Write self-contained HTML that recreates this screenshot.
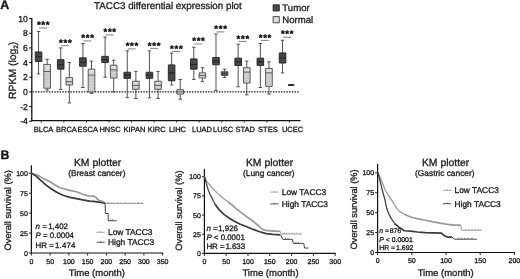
<!DOCTYPE html>
<html lang="en"><head><meta charset="utf-8"><title>TACC3 figure</title>
<style>
html,body{margin:0;padding:0;background:#fff;}
body{width:520px;height:279px;overflow:hidden;font-family:"Liberation Sans", sans-serif;}
svg{display:block;filter:blur(0.4px);}
</style></head>
<body>
<svg width="520" height="279" viewBox="0 0 520 279" font-family='"Liberation Sans", sans-serif' text-rendering="geometricPrecision" stroke-linejoin="round"><style>text{stroke:#1a1a1a;stroke-width:0.3px;paint-order:stroke fill}</style>
<text x="0.30" y="9.40" font-size="12.4" text-anchor="start" fill="#111" font-weight="bold" font-style="normal" >A</text>
<text x="167.90" y="9.30" font-size="9.8" text-anchor="middle" fill="#1a1a1a" font-weight="normal" font-style="normal" >TACC3 differential expression plot</text>
<line x1="31.80" y1="18.10" x2="31.80" y2="121.20" stroke="#111" stroke-width="1.3" />
<line x1="29.20" y1="18.60" x2="31.80" y2="18.60" stroke="#111" stroke-width="1.1" />
<text x="27.80" y="21.60" font-size="8.6" text-anchor="end" fill="#1a1a1a" font-weight="normal" font-style="normal" >10</text>
<line x1="29.20" y1="33.26" x2="31.80" y2="33.26" stroke="#111" stroke-width="1.1" />
<text x="27.80" y="36.26" font-size="8.6" text-anchor="end" fill="#1a1a1a" font-weight="normal" font-style="normal" >8</text>
<line x1="29.20" y1="47.92" x2="31.80" y2="47.92" stroke="#111" stroke-width="1.1" />
<text x="27.80" y="50.92" font-size="8.6" text-anchor="end" fill="#1a1a1a" font-weight="normal" font-style="normal" >6</text>
<line x1="29.20" y1="62.58" x2="31.80" y2="62.58" stroke="#111" stroke-width="1.1" />
<text x="27.80" y="65.58" font-size="8.6" text-anchor="end" fill="#1a1a1a" font-weight="normal" font-style="normal" >4</text>
<line x1="29.20" y1="77.24" x2="31.80" y2="77.24" stroke="#111" stroke-width="1.1" />
<text x="27.80" y="80.24" font-size="8.6" text-anchor="end" fill="#1a1a1a" font-weight="normal" font-style="normal" >2</text>
<line x1="29.20" y1="91.90" x2="31.80" y2="91.90" stroke="#111" stroke-width="1.1" />
<text x="27.80" y="94.90" font-size="8.6" text-anchor="end" fill="#1a1a1a" font-weight="normal" font-style="normal" >0</text>
<line x1="29.20" y1="106.56" x2="31.80" y2="106.56" stroke="#111" stroke-width="1.1" />
<text x="27.80" y="109.56" font-size="8.6" text-anchor="end" fill="#1a1a1a" font-weight="normal" font-style="normal" >-2</text>
<line x1="29.20" y1="121.22" x2="31.80" y2="121.22" stroke="#111" stroke-width="1.1" />
<text x="27.80" y="124.22" font-size="8.6" text-anchor="end" fill="#1a1a1a" font-weight="normal" font-style="normal" >-4</text>
<line x1="31.30" y1="120.70" x2="300.50" y2="120.70" stroke="#111" stroke-width="1.2" />
<line x1="32.60" y1="91.90" x2="300.00" y2="91.90" stroke="#1c1c1c" stroke-width="1.3" stroke-dasharray="1.5 1.2"/>
<text transform="translate(15.8,70.3) rotate(-90)" font-size="10.4" text-anchor="middle" fill="#1a1a1a">RPKM (log<tspan font-size="6.4" dy="2.2">2</tspan><tspan dy="-2.2">)</tspan></text>
<line x1="38.55" y1="31.43" x2="38.55" y2="51.95" stroke="#404040" stroke-width="0.9" />
<line x1="38.55" y1="61.48" x2="38.55" y2="73.94" stroke="#404040" stroke-width="0.9" />
<line x1="36.85" y1="31.43" x2="40.25" y2="31.43" stroke="#404040" stroke-width="0.9" />
<line x1="36.85" y1="73.94" x2="40.25" y2="73.94" stroke="#404040" stroke-width="0.9" />
<rect x="35.25" y="51.95" width="6.60" height="9.53" fill="#474747" stroke="#222" stroke-width="0.9"/>
<line x1="35.25" y1="56.72" x2="41.85" y2="56.72" stroke="#1e1e1e" stroke-width="0.9" />
<line x1="47.15" y1="59.28" x2="47.15" y2="64.41" stroke="#404040" stroke-width="0.9" />
<line x1="47.15" y1="88.23" x2="47.15" y2="90.07" stroke="#404040" stroke-width="0.9" />
<line x1="45.45" y1="59.28" x2="48.85" y2="59.28" stroke="#404040" stroke-width="0.9" />
<line x1="45.45" y1="90.07" x2="48.85" y2="90.07" stroke="#404040" stroke-width="0.9" />
<rect x="43.85" y="64.41" width="6.60" height="23.82" fill="#dddddd" stroke="#454545" stroke-width="0.9"/>
<line x1="44.45" y1="72.98" x2="49.85" y2="72.98" stroke="#a8a8a8" stroke-width="0.5" />
<line x1="44.45" y1="74.58" x2="49.85" y2="74.58" stroke="#a8a8a8" stroke-width="0.5" />
<line x1="44.45" y1="76.18" x2="49.85" y2="76.18" stroke="#a8a8a8" stroke-width="0.5" />
<line x1="44.45" y1="77.78" x2="49.85" y2="77.78" stroke="#a8a8a8" stroke-width="0.5" />
<line x1="44.45" y1="79.38" x2="49.85" y2="79.38" stroke="#a8a8a8" stroke-width="0.5" />
<line x1="44.45" y1="80.98" x2="49.85" y2="80.98" stroke="#a8a8a8" stroke-width="0.5" />
<line x1="44.45" y1="82.58" x2="49.85" y2="82.58" stroke="#a8a8a8" stroke-width="0.5" />
<line x1="44.45" y1="84.18" x2="49.85" y2="84.18" stroke="#a8a8a8" stroke-width="0.5" />
<line x1="44.45" y1="85.78" x2="49.85" y2="85.78" stroke="#a8a8a8" stroke-width="0.5" />
<line x1="44.45" y1="87.38" x2="49.85" y2="87.38" stroke="#a8a8a8" stroke-width="0.5" />
<line x1="43.85" y1="71.38" x2="50.45" y2="71.38" stroke="#454545" stroke-width="0.9" />
<line x1="41.30" y1="120.70" x2="41.30" y2="122.60" stroke="#222" stroke-width="0.9" />
<text x="43.60" y="28.10" font-size="9.6" text-anchor="middle" fill="#000" font-weight="bold" font-style="normal" letter-spacing="0.72" style="stroke-width:0.35px;stroke:#000">***</text>
<line x1="39.05" y1="28.00" x2="47.05" y2="28.00" stroke="#6a6a6a" stroke-width="0.85" />
<line x1="60.73" y1="47.92" x2="60.73" y2="59.65" stroke="#404040" stroke-width="0.9" />
<line x1="60.73" y1="69.18" x2="60.73" y2="89.33" stroke="#404040" stroke-width="0.9" />
<line x1="59.03" y1="47.92" x2="62.43" y2="47.92" stroke="#404040" stroke-width="0.9" />
<line x1="59.03" y1="89.33" x2="62.43" y2="89.33" stroke="#404040" stroke-width="0.9" />
<rect x="57.43" y="59.65" width="6.60" height="9.53" fill="#474747" stroke="#222" stroke-width="0.9"/>
<line x1="57.43" y1="64.78" x2="64.03" y2="64.78" stroke="#1e1e1e" stroke-width="0.9" />
<line x1="69.33" y1="62.58" x2="69.33" y2="77.61" stroke="#404040" stroke-width="0.9" />
<line x1="69.33" y1="84.94" x2="69.33" y2="102.90" stroke="#404040" stroke-width="0.9" />
<line x1="67.63" y1="62.58" x2="71.03" y2="62.58" stroke="#404040" stroke-width="0.9" />
<line x1="67.63" y1="102.90" x2="71.03" y2="102.90" stroke="#404040" stroke-width="0.9" />
<rect x="66.03" y="77.61" width="6.60" height="7.33" fill="#dddddd" stroke="#454545" stroke-width="0.9"/>
<line x1="66.63" y1="83.24" x2="72.03" y2="83.24" stroke="#a8a8a8" stroke-width="0.5" />
<line x1="66.03" y1="81.64" x2="72.63" y2="81.64" stroke="#454545" stroke-width="0.9" />
<line x1="63.85" y1="120.70" x2="63.85" y2="122.60" stroke="#222" stroke-width="0.9" />
<text x="65.78" y="45.80" font-size="9.6" text-anchor="middle" fill="#000" font-weight="bold" font-style="normal" letter-spacing="0.72" style="stroke-width:0.35px;stroke:#000">***</text>
<line x1="61.23" y1="45.70" x2="69.23" y2="45.70" stroke="#6a6a6a" stroke-width="0.85" />
<line x1="82.91" y1="43.52" x2="82.91" y2="57.82" stroke="#404040" stroke-width="0.9" />
<line x1="82.91" y1="66.25" x2="82.91" y2="87.50" stroke="#404040" stroke-width="0.9" />
<line x1="81.21" y1="43.52" x2="84.61" y2="43.52" stroke="#404040" stroke-width="0.9" />
<line x1="81.21" y1="87.50" x2="84.61" y2="87.50" stroke="#404040" stroke-width="0.9" />
<rect x="79.61" y="57.82" width="6.60" height="8.43" fill="#474747" stroke="#222" stroke-width="0.9"/>
<line x1="79.61" y1="62.21" x2="86.21" y2="62.21" stroke="#1e1e1e" stroke-width="0.9" />
<line x1="91.51" y1="61.11" x2="91.51" y2="69.18" stroke="#404040" stroke-width="0.9" />
<line x1="91.51" y1="91.90" x2="91.51" y2="93.37" stroke="#404040" stroke-width="0.9" />
<line x1="89.81" y1="61.11" x2="93.21" y2="61.11" stroke="#404040" stroke-width="0.9" />
<line x1="89.81" y1="93.37" x2="93.21" y2="93.37" stroke="#404040" stroke-width="0.9" />
<rect x="88.21" y="69.18" width="6.60" height="22.72" fill="#dddddd" stroke="#454545" stroke-width="0.9"/>
<line x1="88.81" y1="76.64" x2="94.21" y2="76.64" stroke="#a8a8a8" stroke-width="0.5" />
<line x1="88.81" y1="78.24" x2="94.21" y2="78.24" stroke="#a8a8a8" stroke-width="0.5" />
<line x1="88.81" y1="79.84" x2="94.21" y2="79.84" stroke="#a8a8a8" stroke-width="0.5" />
<line x1="88.81" y1="81.44" x2="94.21" y2="81.44" stroke="#a8a8a8" stroke-width="0.5" />
<line x1="88.81" y1="83.04" x2="94.21" y2="83.04" stroke="#a8a8a8" stroke-width="0.5" />
<line x1="88.81" y1="84.64" x2="94.21" y2="84.64" stroke="#a8a8a8" stroke-width="0.5" />
<line x1="88.81" y1="86.24" x2="94.21" y2="86.24" stroke="#a8a8a8" stroke-width="0.5" />
<line x1="88.81" y1="87.84" x2="94.21" y2="87.84" stroke="#a8a8a8" stroke-width="0.5" />
<line x1="88.81" y1="89.44" x2="94.21" y2="89.44" stroke="#a8a8a8" stroke-width="0.5" />
<line x1="88.81" y1="91.04" x2="94.21" y2="91.04" stroke="#a8a8a8" stroke-width="0.5" />
<line x1="88.21" y1="75.04" x2="94.81" y2="75.04" stroke="#454545" stroke-width="0.9" />
<line x1="86.40" y1="120.70" x2="86.40" y2="122.60" stroke="#222" stroke-width="0.9" />
<text x="87.96" y="41.00" font-size="9.6" text-anchor="middle" fill="#000" font-weight="bold" font-style="normal" letter-spacing="0.72" style="stroke-width:0.35px;stroke:#000">***</text>
<line x1="83.41" y1="40.90" x2="91.41" y2="40.90" stroke="#6a6a6a" stroke-width="0.85" />
<line x1="105.09" y1="37.07" x2="105.09" y2="56.35" stroke="#404040" stroke-width="0.9" />
<line x1="105.09" y1="62.58" x2="105.09" y2="77.24" stroke="#404040" stroke-width="0.9" />
<line x1="103.39" y1="37.07" x2="106.79" y2="37.07" stroke="#404040" stroke-width="0.9" />
<line x1="103.39" y1="77.24" x2="106.79" y2="77.24" stroke="#404040" stroke-width="0.9" />
<rect x="101.79" y="56.35" width="6.60" height="6.23" fill="#474747" stroke="#222" stroke-width="0.9"/>
<line x1="101.79" y1="59.65" x2="108.39" y2="59.65" stroke="#1e1e1e" stroke-width="0.9" />
<line x1="113.69" y1="60.23" x2="113.69" y2="65.22" stroke="#404040" stroke-width="0.9" />
<line x1="113.69" y1="77.97" x2="113.69" y2="91.90" stroke="#404040" stroke-width="0.9" />
<line x1="111.99" y1="60.23" x2="115.39" y2="60.23" stroke="#404040" stroke-width="0.9" />
<line x1="111.99" y1="91.90" x2="115.39" y2="91.90" stroke="#404040" stroke-width="0.9" />
<rect x="110.39" y="65.22" width="6.60" height="12.75" fill="#dddddd" stroke="#454545" stroke-width="0.9"/>
<line x1="110.99" y1="71.51" x2="116.39" y2="71.51" stroke="#a8a8a8" stroke-width="0.5" />
<line x1="110.99" y1="73.11" x2="116.39" y2="73.11" stroke="#a8a8a8" stroke-width="0.5" />
<line x1="110.99" y1="74.71" x2="116.39" y2="74.71" stroke="#a8a8a8" stroke-width="0.5" />
<line x1="110.99" y1="76.31" x2="116.39" y2="76.31" stroke="#a8a8a8" stroke-width="0.5" />
<line x1="110.39" y1="69.91" x2="116.99" y2="69.91" stroke="#454545" stroke-width="0.9" />
<line x1="108.95" y1="120.70" x2="108.95" y2="122.60" stroke="#222" stroke-width="0.9" />
<text x="110.14" y="35.00" font-size="9.6" text-anchor="middle" fill="#000" font-weight="bold" font-style="normal" letter-spacing="0.72" style="stroke-width:0.35px;stroke:#000">***</text>
<line x1="105.59" y1="34.90" x2="113.59" y2="34.90" stroke="#6a6a6a" stroke-width="0.85" />
<line x1="127.27" y1="50.85" x2="127.27" y2="72.26" stroke="#404040" stroke-width="0.9" />
<line x1="127.27" y1="78.34" x2="127.27" y2="97.76" stroke="#404040" stroke-width="0.9" />
<line x1="125.57" y1="50.85" x2="128.97" y2="50.85" stroke="#404040" stroke-width="0.9" />
<line x1="125.57" y1="97.76" x2="128.97" y2="97.76" stroke="#404040" stroke-width="0.9" />
<rect x="123.97" y="72.26" width="6.60" height="6.08" fill="#474747" stroke="#222" stroke-width="0.9"/>
<line x1="123.97" y1="75.04" x2="130.57" y2="75.04" stroke="#1e1e1e" stroke-width="0.9" />
<line x1="135.87" y1="71.38" x2="135.87" y2="81.27" stroke="#404040" stroke-width="0.9" />
<line x1="135.87" y1="89.33" x2="135.87" y2="98.50" stroke="#404040" stroke-width="0.9" />
<line x1="134.17" y1="71.38" x2="137.57" y2="71.38" stroke="#404040" stroke-width="0.9" />
<line x1="134.17" y1="98.50" x2="137.57" y2="98.50" stroke="#404040" stroke-width="0.9" />
<rect x="132.57" y="81.27" width="6.60" height="8.06" fill="#dddddd" stroke="#454545" stroke-width="0.9"/>
<line x1="133.17" y1="86.90" x2="138.57" y2="86.90" stroke="#a8a8a8" stroke-width="0.5" />
<line x1="133.17" y1="88.50" x2="138.57" y2="88.50" stroke="#a8a8a8" stroke-width="0.5" />
<line x1="132.57" y1="85.30" x2="139.17" y2="85.30" stroke="#454545" stroke-width="0.9" />
<line x1="131.50" y1="120.70" x2="131.50" y2="122.60" stroke="#222" stroke-width="0.9" />
<text x="132.32" y="49.00" font-size="9.6" text-anchor="middle" fill="#000" font-weight="bold" font-style="normal" letter-spacing="0.72" style="stroke-width:0.35px;stroke:#000">***</text>
<line x1="127.77" y1="48.90" x2="135.77" y2="48.90" stroke="#6a6a6a" stroke-width="0.85" />
<line x1="149.45" y1="50.85" x2="149.45" y2="72.26" stroke="#404040" stroke-width="0.9" />
<line x1="149.45" y1="78.34" x2="149.45" y2="97.76" stroke="#404040" stroke-width="0.9" />
<line x1="147.75" y1="50.85" x2="151.15" y2="50.85" stroke="#404040" stroke-width="0.9" />
<line x1="147.75" y1="97.76" x2="151.15" y2="97.76" stroke="#404040" stroke-width="0.9" />
<rect x="146.15" y="72.26" width="6.60" height="6.08" fill="#474747" stroke="#222" stroke-width="0.9"/>
<line x1="146.15" y1="75.04" x2="152.75" y2="75.04" stroke="#1e1e1e" stroke-width="0.9" />
<line x1="158.05" y1="71.38" x2="158.05" y2="81.27" stroke="#404040" stroke-width="0.9" />
<line x1="158.05" y1="89.33" x2="158.05" y2="98.50" stroke="#404040" stroke-width="0.9" />
<line x1="156.35" y1="71.38" x2="159.75" y2="71.38" stroke="#404040" stroke-width="0.9" />
<line x1="156.35" y1="98.50" x2="159.75" y2="98.50" stroke="#404040" stroke-width="0.9" />
<rect x="154.75" y="81.27" width="6.60" height="8.06" fill="#dddddd" stroke="#454545" stroke-width="0.9"/>
<line x1="155.35" y1="86.90" x2="160.75" y2="86.90" stroke="#a8a8a8" stroke-width="0.5" />
<line x1="155.35" y1="88.50" x2="160.75" y2="88.50" stroke="#a8a8a8" stroke-width="0.5" />
<line x1="154.75" y1="85.30" x2="161.35" y2="85.30" stroke="#454545" stroke-width="0.9" />
<line x1="154.05" y1="120.70" x2="154.05" y2="122.60" stroke="#222" stroke-width="0.9" />
<text x="154.50" y="48.50" font-size="9.6" text-anchor="middle" fill="#000" font-weight="bold" font-style="normal" letter-spacing="0.72" style="stroke-width:0.35px;stroke:#000">***</text>
<line x1="149.95" y1="48.40" x2="157.95" y2="48.40" stroke="#6a6a6a" stroke-width="0.85" />
<line x1="171.63" y1="53.05" x2="171.63" y2="64.93" stroke="#404040" stroke-width="0.9" />
<line x1="171.63" y1="80.76" x2="171.63" y2="84.94" stroke="#404040" stroke-width="0.9" />
<line x1="169.93" y1="53.05" x2="173.33" y2="53.05" stroke="#404040" stroke-width="0.9" />
<line x1="169.93" y1="84.94" x2="173.33" y2="84.94" stroke="#404040" stroke-width="0.9" />
<rect x="168.33" y="64.93" width="6.60" height="15.83" fill="#474747" stroke="#222" stroke-width="0.9"/>
<line x1="168.33" y1="72.84" x2="174.93" y2="72.84" stroke="#1e1e1e" stroke-width="0.9" />
<line x1="180.23" y1="79.44" x2="180.23" y2="89.70" stroke="#404040" stroke-width="0.9" />
<line x1="180.23" y1="94.10" x2="180.23" y2="99.23" stroke="#404040" stroke-width="0.9" />
<line x1="178.53" y1="79.44" x2="181.93" y2="79.44" stroke="#404040" stroke-width="0.9" />
<line x1="178.53" y1="99.23" x2="181.93" y2="99.23" stroke="#404040" stroke-width="0.9" />
<rect x="176.93" y="89.70" width="6.60" height="4.40" fill="#dddddd" stroke="#454545" stroke-width="0.9"/>
<line x1="176.93" y1="91.90" x2="183.53" y2="91.90" stroke="#454545" stroke-width="0.9" />
<line x1="176.60" y1="120.70" x2="176.60" y2="122.60" stroke="#222" stroke-width="0.9" />
<text x="176.68" y="51.50" font-size="9.6" text-anchor="middle" fill="#000" font-weight="bold" font-style="normal" letter-spacing="0.72" style="stroke-width:0.35px;stroke:#000">***</text>
<line x1="172.13" y1="51.40" x2="180.13" y2="51.40" stroke="#6a6a6a" stroke-width="0.85" />
<line x1="193.81" y1="47.19" x2="193.81" y2="58.92" stroke="#404040" stroke-width="0.9" />
<line x1="193.81" y1="69.18" x2="193.81" y2="79.44" stroke="#404040" stroke-width="0.9" />
<line x1="192.11" y1="47.19" x2="195.51" y2="47.19" stroke="#404040" stroke-width="0.9" />
<line x1="192.11" y1="79.44" x2="195.51" y2="79.44" stroke="#404040" stroke-width="0.9" />
<rect x="190.51" y="58.92" width="6.60" height="10.26" fill="#474747" stroke="#222" stroke-width="0.9"/>
<line x1="190.51" y1="64.41" x2="197.11" y2="64.41" stroke="#1e1e1e" stroke-width="0.9" />
<line x1="202.41" y1="67.71" x2="202.41" y2="72.84" stroke="#404040" stroke-width="0.9" />
<line x1="202.41" y1="77.97" x2="202.41" y2="81.64" stroke="#404040" stroke-width="0.9" />
<line x1="200.71" y1="67.71" x2="204.11" y2="67.71" stroke="#404040" stroke-width="0.9" />
<line x1="200.71" y1="81.64" x2="204.11" y2="81.64" stroke="#404040" stroke-width="0.9" />
<rect x="199.11" y="72.84" width="6.60" height="5.13" fill="#dddddd" stroke="#454545" stroke-width="0.9"/>
<line x1="199.71" y1="77.01" x2="205.11" y2="77.01" stroke="#a8a8a8" stroke-width="0.5" />
<line x1="199.11" y1="75.41" x2="205.71" y2="75.41" stroke="#454545" stroke-width="0.9" />
<line x1="199.15" y1="120.70" x2="199.15" y2="122.60" stroke="#222" stroke-width="0.9" />
<text x="198.86" y="44.10" font-size="9.6" text-anchor="middle" fill="#000" font-weight="bold" font-style="normal" letter-spacing="0.72" style="stroke-width:0.35px;stroke:#000">***</text>
<line x1="194.31" y1="44.00" x2="202.31" y2="44.00" stroke="#6a6a6a" stroke-width="0.85" />
<line x1="215.99" y1="33.99" x2="215.99" y2="57.45" stroke="#404040" stroke-width="0.9" />
<line x1="215.99" y1="64.78" x2="215.99" y2="90.43" stroke="#404040" stroke-width="0.9" />
<line x1="214.29" y1="33.99" x2="217.69" y2="33.99" stroke="#404040" stroke-width="0.9" />
<line x1="214.29" y1="90.43" x2="217.69" y2="90.43" stroke="#404040" stroke-width="0.9" />
<rect x="212.69" y="57.45" width="6.60" height="7.33" fill="#474747" stroke="#222" stroke-width="0.9"/>
<line x1="212.69" y1="61.11" x2="219.29" y2="61.11" stroke="#1e1e1e" stroke-width="0.9" />
<line x1="224.59" y1="69.18" x2="224.59" y2="71.74" stroke="#404040" stroke-width="0.9" />
<line x1="224.59" y1="75.41" x2="224.59" y2="77.61" stroke="#404040" stroke-width="0.9" />
<line x1="222.89" y1="69.18" x2="226.29" y2="69.18" stroke="#404040" stroke-width="0.9" />
<line x1="222.89" y1="77.61" x2="226.29" y2="77.61" stroke="#404040" stroke-width="0.9" />
<rect x="221.29" y="71.74" width="6.60" height="3.66" fill="#555555" stroke="#454545" stroke-width="0.9"/>
<line x1="221.29" y1="73.58" x2="227.89" y2="73.58" stroke="#454545" stroke-width="0.9" />
<line x1="221.70" y1="120.70" x2="221.70" y2="122.60" stroke="#222" stroke-width="0.9" />
<text x="221.04" y="32.00" font-size="9.6" text-anchor="middle" fill="#000" font-weight="bold" font-style="normal" letter-spacing="0.72" style="stroke-width:0.35px;stroke:#000">***</text>
<line x1="216.49" y1="31.90" x2="224.49" y2="31.90" stroke="#6a6a6a" stroke-width="0.85" />
<line x1="238.17" y1="44.26" x2="238.17" y2="58.18" stroke="#404040" stroke-width="0.9" />
<line x1="238.17" y1="65.51" x2="238.17" y2="86.77" stroke="#404040" stroke-width="0.9" />
<line x1="236.47" y1="44.26" x2="239.87" y2="44.26" stroke="#404040" stroke-width="0.9" />
<line x1="236.47" y1="86.77" x2="239.87" y2="86.77" stroke="#404040" stroke-width="0.9" />
<rect x="234.87" y="58.18" width="6.60" height="7.33" fill="#474747" stroke="#222" stroke-width="0.9"/>
<line x1="234.87" y1="61.85" x2="241.47" y2="61.85" stroke="#1e1e1e" stroke-width="0.9" />
<line x1="246.77" y1="61.11" x2="246.77" y2="67.71" stroke="#404040" stroke-width="0.9" />
<line x1="246.77" y1="83.10" x2="246.77" y2="94.83" stroke="#404040" stroke-width="0.9" />
<line x1="245.07" y1="61.11" x2="248.47" y2="61.11" stroke="#404040" stroke-width="0.9" />
<line x1="245.07" y1="94.83" x2="248.47" y2="94.83" stroke="#404040" stroke-width="0.9" />
<rect x="243.47" y="67.71" width="6.60" height="15.39" fill="#dddddd" stroke="#454545" stroke-width="0.9"/>
<line x1="244.07" y1="73.71" x2="249.47" y2="73.71" stroke="#a8a8a8" stroke-width="0.5" />
<line x1="244.07" y1="75.31" x2="249.47" y2="75.31" stroke="#a8a8a8" stroke-width="0.5" />
<line x1="244.07" y1="76.91" x2="249.47" y2="76.91" stroke="#a8a8a8" stroke-width="0.5" />
<line x1="244.07" y1="78.51" x2="249.47" y2="78.51" stroke="#a8a8a8" stroke-width="0.5" />
<line x1="244.07" y1="80.11" x2="249.47" y2="80.11" stroke="#a8a8a8" stroke-width="0.5" />
<line x1="244.07" y1="81.71" x2="249.47" y2="81.71" stroke="#a8a8a8" stroke-width="0.5" />
<line x1="243.47" y1="72.11" x2="250.07" y2="72.11" stroke="#454545" stroke-width="0.9" />
<line x1="244.25" y1="120.70" x2="244.25" y2="122.60" stroke="#222" stroke-width="0.9" />
<text x="243.22" y="41.50" font-size="9.6" text-anchor="middle" fill="#000" font-weight="bold" font-style="normal" letter-spacing="0.72" style="stroke-width:0.35px;stroke:#000">***</text>
<line x1="238.67" y1="41.40" x2="246.67" y2="41.40" stroke="#6a6a6a" stroke-width="0.85" />
<line x1="260.35" y1="43.52" x2="260.35" y2="58.18" stroke="#404040" stroke-width="0.9" />
<line x1="260.35" y1="65.51" x2="260.35" y2="87.50" stroke="#404040" stroke-width="0.9" />
<line x1="258.65" y1="43.52" x2="262.05" y2="43.52" stroke="#404040" stroke-width="0.9" />
<line x1="258.65" y1="87.50" x2="262.05" y2="87.50" stroke="#404040" stroke-width="0.9" />
<rect x="257.05" y="58.18" width="6.60" height="7.33" fill="#474747" stroke="#222" stroke-width="0.9"/>
<line x1="257.05" y1="61.85" x2="263.65" y2="61.85" stroke="#1e1e1e" stroke-width="0.9" />
<line x1="268.95" y1="61.85" x2="268.95" y2="68.44" stroke="#404040" stroke-width="0.9" />
<line x1="268.95" y1="86.40" x2="268.95" y2="94.10" stroke="#404040" stroke-width="0.9" />
<line x1="267.25" y1="61.85" x2="270.65" y2="61.85" stroke="#404040" stroke-width="0.9" />
<line x1="267.25" y1="94.10" x2="270.65" y2="94.10" stroke="#404040" stroke-width="0.9" />
<rect x="265.65" y="68.44" width="6.60" height="17.96" fill="#dddddd" stroke="#454545" stroke-width="0.9"/>
<line x1="266.25" y1="74.44" x2="271.65" y2="74.44" stroke="#a8a8a8" stroke-width="0.5" />
<line x1="266.25" y1="76.04" x2="271.65" y2="76.04" stroke="#a8a8a8" stroke-width="0.5" />
<line x1="266.25" y1="77.64" x2="271.65" y2="77.64" stroke="#a8a8a8" stroke-width="0.5" />
<line x1="266.25" y1="79.24" x2="271.65" y2="79.24" stroke="#a8a8a8" stroke-width="0.5" />
<line x1="266.25" y1="80.84" x2="271.65" y2="80.84" stroke="#a8a8a8" stroke-width="0.5" />
<line x1="266.25" y1="82.44" x2="271.65" y2="82.44" stroke="#a8a8a8" stroke-width="0.5" />
<line x1="266.25" y1="84.04" x2="271.65" y2="84.04" stroke="#a8a8a8" stroke-width="0.5" />
<line x1="266.25" y1="85.64" x2="271.65" y2="85.64" stroke="#a8a8a8" stroke-width="0.5" />
<line x1="265.65" y1="72.84" x2="272.25" y2="72.84" stroke="#454545" stroke-width="0.9" />
<line x1="266.80" y1="120.70" x2="266.80" y2="122.60" stroke="#222" stroke-width="0.9" />
<text x="265.40" y="40.50" font-size="9.6" text-anchor="middle" fill="#000" font-weight="bold" font-style="normal" letter-spacing="0.72" style="stroke-width:0.35px;stroke:#000">***</text>
<line x1="260.85" y1="40.40" x2="268.85" y2="40.40" stroke="#6a6a6a" stroke-width="0.85" />
<line x1="282.53" y1="40.22" x2="282.53" y2="52.90" stroke="#404040" stroke-width="0.9" />
<line x1="282.53" y1="63.02" x2="282.53" y2="72.84" stroke="#404040" stroke-width="0.9" />
<line x1="280.83" y1="40.22" x2="284.23" y2="40.22" stroke="#404040" stroke-width="0.9" />
<line x1="280.83" y1="72.84" x2="284.23" y2="72.84" stroke="#404040" stroke-width="0.9" />
<rect x="279.23" y="52.90" width="6.60" height="10.12" fill="#474747" stroke="#222" stroke-width="0.9"/>
<line x1="279.23" y1="58.18" x2="285.83" y2="58.18" stroke="#1e1e1e" stroke-width="0.9" />
<line x1="291.13" y1="85.08" x2="291.13" y2="85.08" stroke="#404040" stroke-width="0.9" />
<line x1="291.13" y1="85.08" x2="291.13" y2="85.08" stroke="#404040" stroke-width="0.9" />
<line x1="289.43" y1="85.08" x2="292.83" y2="85.08" stroke="#404040" stroke-width="0.9" />
<line x1="289.43" y1="85.08" x2="292.83" y2="85.08" stroke="#404040" stroke-width="0.9" />
<rect x="287.83" y="84.08" width="6.6" height="2" rx="1" fill="#2e2e2e"/>
<line x1="289.35" y1="120.70" x2="289.35" y2="122.60" stroke="#222" stroke-width="0.9" />
<text x="287.58" y="37.40" font-size="9.6" text-anchor="middle" fill="#000" font-weight="bold" font-style="normal" letter-spacing="0.72" style="stroke-width:0.35px;stroke:#000">***</text>
<line x1="283.03" y1="37.30" x2="291.03" y2="37.30" stroke="#6a6a6a" stroke-width="0.85" />
<text x="43.50" y="131.90" font-size="7.5" text-anchor="middle" fill="#1a1a1a" font-weight="normal" font-style="normal" >BLCA</text>
<text x="66.40" y="131.90" font-size="7.5" text-anchor="middle" fill="#1a1a1a" font-weight="normal" font-style="normal" >BRCA</text>
<text x="87.80" y="131.90" font-size="7.5" text-anchor="middle" fill="#1a1a1a" font-weight="normal" font-style="normal" >ESCA</text>
<text x="110.10" y="131.90" font-size="7.5" text-anchor="middle" fill="#1a1a1a" font-weight="normal" font-style="normal" >HNSC</text>
<text x="134.40" y="131.90" font-size="7.5" text-anchor="middle" fill="#1a1a1a" font-weight="normal" font-style="normal" >KIPAN</text>
<text x="156.70" y="131.90" font-size="7.5" text-anchor="middle" fill="#1a1a1a" font-weight="normal" font-style="normal" >KIRC</text>
<text x="177.50" y="131.90" font-size="7.5" text-anchor="middle" fill="#1a1a1a" font-weight="normal" font-style="normal" >LIHC</text>
<text x="202.00" y="131.90" font-size="7.5" text-anchor="middle" fill="#1a1a1a" font-weight="normal" font-style="normal" >LUAD</text>
<text x="223.10" y="131.90" font-size="7.5" text-anchor="middle" fill="#1a1a1a" font-weight="normal" font-style="normal" >LUSC</text>
<text x="245.20" y="131.90" font-size="7.5" text-anchor="middle" fill="#1a1a1a" font-weight="normal" font-style="normal" >STAD</text>
<text x="267.90" y="131.90" font-size="7.5" text-anchor="middle" fill="#1a1a1a" font-weight="normal" font-style="normal" >STES</text>
<text x="292.60" y="131.90" font-size="7.5" text-anchor="middle" fill="#1a1a1a" font-weight="normal" font-style="normal" >UCEC</text>
<rect x="273.10" y="4.80" width="6.20" height="6.20" fill="#4a4a4a" stroke="#2a2a2a" stroke-width="0.9"/>
<rect x="273.10" y="16.60" width="6.20" height="6.20" fill="#dadada" stroke="#3a3a3a" stroke-width="0.9"/>
<text x="282.30" y="10.80" font-size="9.6" text-anchor="start" fill="#1a1a1a" font-weight="normal" font-style="normal" >Tumor</text>
<text x="282.30" y="22.90" font-size="9.6" text-anchor="start" fill="#1a1a1a" font-weight="normal" font-style="normal" >Normal</text>
<text x="0.60" y="158.90" font-size="12.3" text-anchor="start" fill="#111" font-weight="bold" font-style="normal" >B</text>
<line x1="31.40" y1="165.20" x2="31.40" y2="253.50" stroke="#111" stroke-width="1.2" />
<line x1="30.90" y1="253.00" x2="163.15" y2="253.00" stroke="#111" stroke-width="1.2" />
<line x1="28.90" y1="253.00" x2="31.40" y2="253.00" stroke="#222" stroke-width="1" />
<text x="27.90" y="255.50" font-size="7.0" text-anchor="end" fill="#1a1a1a" font-weight="normal" font-style="normal" >0</text>
<line x1="28.90" y1="233.05" x2="31.40" y2="233.05" stroke="#222" stroke-width="1" />
<text x="27.90" y="235.55" font-size="7.0" text-anchor="end" fill="#1a1a1a" font-weight="normal" font-style="normal" >25</text>
<line x1="28.90" y1="213.10" x2="31.40" y2="213.10" stroke="#222" stroke-width="1" />
<text x="27.90" y="215.60" font-size="7.0" text-anchor="end" fill="#1a1a1a" font-weight="normal" font-style="normal" >50</text>
<line x1="28.90" y1="193.15" x2="31.40" y2="193.15" stroke="#222" stroke-width="1" />
<text x="27.90" y="195.65" font-size="7.0" text-anchor="end" fill="#1a1a1a" font-weight="normal" font-style="normal" >75</text>
<line x1="28.90" y1="173.20" x2="31.40" y2="173.20" stroke="#222" stroke-width="1" />
<text x="27.90" y="175.70" font-size="7.0" text-anchor="end" fill="#1a1a1a" font-weight="normal" font-style="normal" >100</text>
<line x1="31.40" y1="253.00" x2="31.40" y2="255.50" stroke="#222" stroke-width="1" />
<text x="31.40" y="263.90" font-size="7.0" text-anchor="middle" fill="#1a1a1a" font-weight="normal" font-style="normal" >0</text>
<line x1="50.15" y1="253.00" x2="50.15" y2="255.50" stroke="#222" stroke-width="1" />
<text x="50.15" y="263.90" font-size="7.0" text-anchor="middle" fill="#1a1a1a" font-weight="normal" font-style="normal" >50</text>
<line x1="68.90" y1="253.00" x2="68.90" y2="255.50" stroke="#222" stroke-width="1" />
<text x="68.90" y="263.90" font-size="7.0" text-anchor="middle" fill="#1a1a1a" font-weight="normal" font-style="normal" >100</text>
<line x1="87.65" y1="253.00" x2="87.65" y2="255.50" stroke="#222" stroke-width="1" />
<text x="87.65" y="263.90" font-size="7.0" text-anchor="middle" fill="#1a1a1a" font-weight="normal" font-style="normal" >150</text>
<line x1="106.40" y1="253.00" x2="106.40" y2="255.50" stroke="#222" stroke-width="1" />
<text x="106.40" y="263.90" font-size="7.0" text-anchor="middle" fill="#1a1a1a" font-weight="normal" font-style="normal" >200</text>
<line x1="125.15" y1="253.00" x2="125.15" y2="255.50" stroke="#222" stroke-width="1" />
<text x="125.15" y="263.90" font-size="7.0" text-anchor="middle" fill="#1a1a1a" font-weight="normal" font-style="normal" >250</text>
<line x1="143.90" y1="253.00" x2="143.90" y2="255.50" stroke="#222" stroke-width="1" />
<text x="143.90" y="263.90" font-size="7.0" text-anchor="middle" fill="#1a1a1a" font-weight="normal" font-style="normal" >300</text>
<line x1="162.65" y1="253.00" x2="162.65" y2="255.50" stroke="#222" stroke-width="1" />
<text x="162.65" y="263.90" font-size="7.0" text-anchor="middle" fill="#1a1a1a" font-weight="normal" font-style="normal" >350</text>
<polyline points="31.40,173.20 32.15,173.52 37.77,175.19 44.15,178.87 49.02,181.34 53.90,184.21 60.27,187.72 68.53,190.12 76.40,191.79 82.78,194.19 87.65,195.78 94.03,196.10 96.65,198.18 98.90,200.65 102.65,201.29 104.15,203.05" fill="none" stroke="#989898" stroke-width="1.7" stroke-linejoin="round"/>
<polyline points="104.15,203.05 104.90,203.52 143.34,203.52" fill="none" stroke="#989898" stroke-width="0.95" stroke-linejoin="round"/>
<line x1="106.78" y1="202.02" x2="106.78" y2="203.52" stroke="#989898" stroke-width="0.7" />
<line x1="108.28" y1="202.02" x2="108.28" y2="203.52" stroke="#989898" stroke-width="0.7" />
<line x1="109.78" y1="202.02" x2="109.78" y2="203.52" stroke="#989898" stroke-width="0.7" />
<line x1="111.28" y1="202.02" x2="111.28" y2="203.52" stroke="#989898" stroke-width="0.7" />
<line x1="113.53" y1="202.02" x2="113.53" y2="203.52" stroke="#989898" stroke-width="0.7" />
<line x1="116.90" y1="202.02" x2="116.90" y2="203.52" stroke="#989898" stroke-width="0.7" />
<line x1="118.03" y1="202.02" x2="118.03" y2="203.52" stroke="#989898" stroke-width="0.7" />
<line x1="120.65" y1="202.02" x2="120.65" y2="203.52" stroke="#989898" stroke-width="0.7" />
<line x1="124.03" y1="202.02" x2="124.03" y2="203.52" stroke="#989898" stroke-width="0.7" />
<line x1="126.28" y1="202.02" x2="126.28" y2="203.52" stroke="#989898" stroke-width="0.7" />
<line x1="129.65" y1="202.02" x2="129.65" y2="203.52" stroke="#989898" stroke-width="0.7" />
<line x1="132.65" y1="202.02" x2="132.65" y2="203.52" stroke="#989898" stroke-width="0.7" />
<line x1="134.90" y1="202.02" x2="134.90" y2="203.52" stroke="#989898" stroke-width="0.7" />
<line x1="137.90" y1="202.02" x2="137.90" y2="203.52" stroke="#989898" stroke-width="0.7" />
<line x1="139.03" y1="202.02" x2="139.03" y2="203.52" stroke="#989898" stroke-width="0.7" />
<line x1="142.40" y1="202.02" x2="142.40" y2="203.52" stroke="#989898" stroke-width="0.7" />
<polyline points="31.40,173.20 32.15,173.60 36.16,176.15 41.00,180.54 45.84,184.85 50.67,188.52 57.12,192.59 63.57,195.46 70.03,197.38 76.40,198.66 82.78,199.93 89.53,201.05 95.90,201.69 101.90,202.73 105.09,203.05" fill="none" stroke="#3a3a3a" stroke-width="1.7" stroke-linejoin="round"/>
<polyline points="105.09,203.05 105.43,213.50 108.16,213.50 108.16,220.76 116.71,220.76" fill="none" stroke="#3a3a3a" stroke-width="0.95" stroke-linejoin="round"/>
<line x1="110.53" y1="219.26" x2="110.53" y2="220.76" stroke="#3a3a3a" stroke-width="0.7" />
<line x1="112.78" y1="219.26" x2="112.78" y2="220.76" stroke="#3a3a3a" stroke-width="0.7" />
<text x="97.60" y="165.50" font-size="10.4" text-anchor="middle" fill="#1a1a1a" font-weight="normal" font-style="normal" >KM plotter</text>
<text x="96.80" y="175.60" font-size="8.4" text-anchor="middle" fill="#1a1a1a" font-weight="normal" font-style="normal" >(Breast cancer)</text>
<text x="35.6" y="229.3" font-size="7.9" fill="#1a1a1a"><tspan font-style="italic">n</tspan> =<tspan dx="1.4">1,402</tspan></text>
<text x="35.6" y="238.4" font-size="7.9" fill="#1a1a1a"><tspan font-style="italic">P</tspan> = 0.0004</text>
<text x="35.6" y="247.5" font-size="7.9" fill="#1a1a1a">HR =<tspan dx="1.3" letter-spacing="0.12">1.474</tspan></text>
<line x1="96.50" y1="232.30" x2="104.70" y2="232.30" stroke="#9a9a9a" stroke-width="0.9" />
<line x1="100.60" y1="230.90" x2="100.60" y2="232.30" stroke="#9a9a9a" stroke-width="0.7" />
<text x="108.00" y="235.20" font-size="8.4" text-anchor="start" fill="#1a1a1a" font-weight="normal" font-style="normal" >Low TACC3</text>
<line x1="96.50" y1="242.30" x2="104.70" y2="242.30" stroke="#3d3d3d" stroke-width="0.9" />
<line x1="100.60" y1="240.90" x2="100.60" y2="242.30" stroke="#3d3d3d" stroke-width="0.7" />
<text x="108.00" y="245.20" font-size="8.4" text-anchor="start" fill="#1a1a1a" font-weight="normal" font-style="normal" >High TACC3</text>
<text x="96.80" y="276.40" font-size="9.5" text-anchor="middle" fill="#1a1a1a" font-weight="normal" font-style="normal" >Time (month)</text>
<text transform="translate(10.8,210.3) rotate(-90)" font-size="9.25" text-anchor="middle" fill="#1a1a1a">Overall survival (%)</text>
<line x1="204.40" y1="168.80" x2="204.40" y2="253.90" stroke="#111" stroke-width="1.2" />
<line x1="203.90" y1="253.40" x2="335.70" y2="253.40" stroke="#111" stroke-width="1.2" />
<line x1="201.90" y1="253.40" x2="204.40" y2="253.40" stroke="#222" stroke-width="1" />
<text x="200.90" y="255.90" font-size="7.0" text-anchor="end" fill="#1a1a1a" font-weight="normal" font-style="normal" >0</text>
<line x1="201.90" y1="234.25" x2="204.40" y2="234.25" stroke="#222" stroke-width="1" />
<text x="200.90" y="236.75" font-size="7.0" text-anchor="end" fill="#1a1a1a" font-weight="normal" font-style="normal" >25</text>
<line x1="201.90" y1="215.10" x2="204.40" y2="215.10" stroke="#222" stroke-width="1" />
<text x="200.90" y="217.60" font-size="7.0" text-anchor="end" fill="#1a1a1a" font-weight="normal" font-style="normal" >50</text>
<line x1="201.90" y1="195.95" x2="204.40" y2="195.95" stroke="#222" stroke-width="1" />
<text x="200.90" y="198.45" font-size="7.0" text-anchor="end" fill="#1a1a1a" font-weight="normal" font-style="normal" >75</text>
<line x1="201.90" y1="176.80" x2="204.40" y2="176.80" stroke="#222" stroke-width="1" />
<text x="200.90" y="179.30" font-size="7.0" text-anchor="end" fill="#1a1a1a" font-weight="normal" font-style="normal" >100</text>
<line x1="204.40" y1="253.40" x2="204.40" y2="255.90" stroke="#222" stroke-width="1" />
<text x="204.40" y="264.30" font-size="7.0" text-anchor="middle" fill="#1a1a1a" font-weight="normal" font-style="normal" >0</text>
<line x1="226.20" y1="253.40" x2="226.20" y2="255.90" stroke="#222" stroke-width="1" />
<text x="226.20" y="264.30" font-size="7.0" text-anchor="middle" fill="#1a1a1a" font-weight="normal" font-style="normal" >50</text>
<line x1="248.00" y1="253.40" x2="248.00" y2="255.90" stroke="#222" stroke-width="1" />
<text x="248.00" y="264.30" font-size="7.0" text-anchor="middle" fill="#1a1a1a" font-weight="normal" font-style="normal" >100</text>
<line x1="269.80" y1="253.40" x2="269.80" y2="255.90" stroke="#222" stroke-width="1" />
<text x="269.80" y="264.30" font-size="7.0" text-anchor="middle" fill="#1a1a1a" font-weight="normal" font-style="normal" >150</text>
<line x1="291.60" y1="253.40" x2="291.60" y2="255.90" stroke="#222" stroke-width="1" />
<text x="291.60" y="264.30" font-size="7.0" text-anchor="middle" fill="#1a1a1a" font-weight="normal" font-style="normal" >200</text>
<line x1="313.40" y1="253.40" x2="313.40" y2="255.90" stroke="#222" stroke-width="1" />
<text x="313.40" y="264.30" font-size="7.0" text-anchor="middle" fill="#1a1a1a" font-weight="normal" font-style="normal" >250</text>
<line x1="335.20" y1="253.40" x2="335.20" y2="255.90" stroke="#222" stroke-width="1" />
<text x="335.20" y="264.30" font-size="7.0" text-anchor="middle" fill="#1a1a1a" font-weight="normal" font-style="normal" >300</text>
<polyline points="204.40,176.80 204.53,176.80 207.28,182.09 209.20,184.23 213.82,189.59 218.48,194.11 223.10,198.25 227.68,201.62" fill="none" stroke="#989898" stroke-width="1.25" stroke-linejoin="round"/>
<polyline points="227.68,201.62 231.08,204.22 236.93,209.43 244.99,215.41 253.06,221.23 259.99,227.05 263.43,229.81 265.88,230.42 274.16,231.03 280.26,231.42" fill="none" stroke="#989898" stroke-width="1.7" stroke-linejoin="round"/>
<polyline points="280.26,231.42 281.14,234.02 302.06,234.02" fill="none" stroke="#989898" stroke-width="0.95" stroke-linejoin="round"/>
<line x1="282.88" y1="232.52" x2="282.88" y2="234.02" stroke="#989898" stroke-width="0.7" />
<line x1="284.62" y1="232.52" x2="284.62" y2="234.02" stroke="#989898" stroke-width="0.7" />
<line x1="286.80" y1="232.52" x2="286.80" y2="234.02" stroke="#989898" stroke-width="0.7" />
<line x1="289.42" y1="232.52" x2="289.42" y2="234.02" stroke="#989898" stroke-width="0.7" />
<line x1="292.04" y1="232.52" x2="292.04" y2="234.02" stroke="#989898" stroke-width="0.7" />
<line x1="294.22" y1="232.52" x2="294.22" y2="234.02" stroke="#989898" stroke-width="0.7" />
<line x1="296.83" y1="232.52" x2="296.83" y2="234.02" stroke="#989898" stroke-width="0.7" />
<line x1="299.45" y1="232.52" x2="299.45" y2="234.02" stroke="#989898" stroke-width="0.7" />
<polyline points="204.40,176.80 204.53,176.80 206.14,182.93 208.06,189.36 209.98,194.19 211.55,197.10 213.12,200.55 214.99,203.99" fill="none" stroke="#3a3a3a" stroke-width="1.25" stroke-linejoin="round"/>
<polyline points="214.99,203.99 217.74,207.90 220.10,210.73 224.19,214.64 229.03,218.01 233.87,221.07 240.33,224.29 246.78,226.82 253.23,229.42 259.68,231.80 266.14,233.64 272.85,234.40 280.26,234.86" fill="none" stroke="#3a3a3a" stroke-width="1.7" stroke-linejoin="round"/>
<polyline points="280.26,234.86 281.14,235.94 282.75,239.38 292.47,239.38 293.21,243.37 303.81,243.37 304.51,248.04 308.60,248.04" fill="none" stroke="#3a3a3a" stroke-width="0.95" stroke-linejoin="round"/>
<line x1="285.50" y1="237.88" x2="285.50" y2="239.38" stroke="#3a3a3a" stroke-width="0.7" />
<line x1="288.11" y1="237.88" x2="288.11" y2="239.38" stroke="#3a3a3a" stroke-width="0.7" />
<line x1="295.96" y1="241.87" x2="295.96" y2="243.37" stroke="#3a3a3a" stroke-width="0.7" />
<line x1="298.58" y1="241.87" x2="298.58" y2="243.37" stroke="#3a3a3a" stroke-width="0.7" />
<text x="269.60" y="165.50" font-size="10.4" text-anchor="middle" fill="#1a1a1a" font-weight="normal" font-style="normal" >KM plotter</text>
<text x="268.80" y="175.60" font-size="8.4" text-anchor="middle" fill="#1a1a1a" font-weight="normal" font-style="normal" >(Lung cancer)</text>
<text x="206.4" y="231.0" font-size="7.9" fill="#1a1a1a"><tspan font-style="italic">n</tspan> =<tspan dx="0.6">1,926</tspan></text>
<text x="206.4" y="240.1" font-size="7.9" fill="#1a1a1a"><tspan font-style="italic">P</tspan> &lt; 0.0001</text>
<text x="206.4" y="249.2" font-size="7.9" fill="#1a1a1a">HR =<tspan dx="0.8">1.633</tspan></text>
<line x1="270.30" y1="192.10" x2="278.50" y2="192.10" stroke="#9a9a9a" stroke-width="0.9" />
<line x1="274.40" y1="190.70" x2="274.40" y2="192.10" stroke="#9a9a9a" stroke-width="0.7" />
<text x="281.80" y="195.00" font-size="8.4" text-anchor="start" fill="#1a1a1a" font-weight="normal" font-style="normal" >Low TACC3</text>
<line x1="270.30" y1="203.90" x2="278.50" y2="203.90" stroke="#3d3d3d" stroke-width="0.9" />
<line x1="274.40" y1="202.50" x2="274.40" y2="203.90" stroke="#3d3d3d" stroke-width="0.7" />
<text x="281.80" y="206.80" font-size="8.4" text-anchor="start" fill="#1a1a1a" font-weight="normal" font-style="normal" >High TACC3</text>
<text x="270.50" y="276.40" font-size="9.5" text-anchor="middle" fill="#1a1a1a" font-weight="normal" font-style="normal" >Time (month)</text>
<text transform="translate(181.8,210.6) rotate(-90)" font-size="9.25" text-anchor="middle" fill="#1a1a1a">Overall survival (%)</text>
<line x1="377.60" y1="163.80" x2="377.60" y2="253.00" stroke="#111" stroke-width="1.2" />
<line x1="377.10" y1="252.50" x2="514.90" y2="252.50" stroke="#111" stroke-width="1.2" />
<line x1="375.10" y1="252.50" x2="377.60" y2="252.50" stroke="#222" stroke-width="1" />
<text x="374.10" y="255.00" font-size="7.0" text-anchor="end" fill="#1a1a1a" font-weight="normal" font-style="normal" >0</text>
<line x1="375.10" y1="232.57" x2="377.60" y2="232.57" stroke="#222" stroke-width="1" />
<text x="374.10" y="235.07" font-size="7.0" text-anchor="end" fill="#1a1a1a" font-weight="normal" font-style="normal" >25</text>
<line x1="375.10" y1="212.65" x2="377.60" y2="212.65" stroke="#222" stroke-width="1" />
<text x="374.10" y="215.15" font-size="7.0" text-anchor="end" fill="#1a1a1a" font-weight="normal" font-style="normal" >50</text>
<line x1="375.10" y1="192.73" x2="377.60" y2="192.73" stroke="#222" stroke-width="1" />
<text x="374.10" y="195.23" font-size="7.0" text-anchor="end" fill="#1a1a1a" font-weight="normal" font-style="normal" >75</text>
<line x1="375.10" y1="172.80" x2="377.60" y2="172.80" stroke="#222" stroke-width="1" />
<text x="374.10" y="175.30" font-size="7.0" text-anchor="end" fill="#1a1a1a" font-weight="normal" font-style="normal" >100</text>
<line x1="377.60" y1="252.50" x2="377.60" y2="255.00" stroke="#222" stroke-width="1" />
<text x="377.60" y="263.40" font-size="7.0" text-anchor="middle" fill="#1a1a1a" font-weight="normal" font-style="normal" >0</text>
<line x1="411.80" y1="252.50" x2="411.80" y2="255.00" stroke="#222" stroke-width="1" />
<text x="411.80" y="263.40" font-size="7.0" text-anchor="middle" fill="#1a1a1a" font-weight="normal" font-style="normal" >50</text>
<line x1="446.00" y1="252.50" x2="446.00" y2="255.00" stroke="#222" stroke-width="1" />
<text x="446.00" y="263.40" font-size="7.0" text-anchor="middle" fill="#1a1a1a" font-weight="normal" font-style="normal" >100</text>
<line x1="480.20" y1="252.50" x2="480.20" y2="255.00" stroke="#222" stroke-width="1" />
<text x="480.20" y="263.40" font-size="7.0" text-anchor="middle" fill="#1a1a1a" font-weight="normal" font-style="normal" >150</text>
<line x1="514.40" y1="252.50" x2="514.40" y2="255.00" stroke="#222" stroke-width="1" />
<text x="514.40" y="263.40" font-size="7.0" text-anchor="middle" fill="#1a1a1a" font-weight="normal" font-style="normal" >200</text>
<polyline points="377.60,172.80 378.15,172.88 380.06,177.18 382.46,182.84 384.92,189.30 388.13,194.96 391.35,199.82 394.56,204.68 396.75,208.67 399.42,211.37 404.28,214.24" fill="none" stroke="#989898" stroke-width="1.25" stroke-linejoin="round"/>
<polyline points="404.28,214.24 410.71,217.03 417.14,218.63 425.21,220.22 433.28,221.90 441.42,223.33 447.85,224.29 454.21,225.08 460.77,225.08" fill="none" stroke="#989898" stroke-width="1.7" stroke-linejoin="round"/>
<polyline points="460.77,225.08 461.60,230.26 481.77,230.26" fill="none" stroke="#989898" stroke-width="0.95" stroke-linejoin="round"/>
<line x1="465.15" y1="228.76" x2="465.15" y2="230.26" stroke="#989898" stroke-width="0.7" />
<line x1="468.57" y1="228.76" x2="468.57" y2="230.26" stroke="#989898" stroke-width="0.7" />
<line x1="471.99" y1="228.76" x2="471.99" y2="230.26" stroke="#989898" stroke-width="0.7" />
<line x1="475.41" y1="228.76" x2="475.41" y2="230.26" stroke="#989898" stroke-width="0.7" />
<line x1="478.83" y1="228.76" x2="478.83" y2="230.26" stroke="#989898" stroke-width="0.7" />
<polyline points="377.60,172.80 378.15,172.88 379.72,179.65 381.36,186.11 382.94,192.57 384.92,199.66 386.49,207.47 387.86,211.45 388.95,214.24 391.35,218.63 394.56,223.49" fill="none" stroke="#3a3a3a" stroke-width="1.25" stroke-linejoin="round"/>
<polyline points="394.56,223.49 399.42,227.55 404.28,230.74 410.71,231.06 417.14,232.02 425.21,232.65 433.28,232.89 441.42,233.21 443.95,235.44 447.37,237.04 451.95,237.04" fill="none" stroke="#3a3a3a" stroke-width="1.7" stroke-linejoin="round"/>
<polyline points="451.95,237.04 454.34,239.19 476.92,239.19" fill="none" stroke="#3a3a3a" stroke-width="0.95" stroke-linejoin="round"/>
<line x1="458.31" y1="237.69" x2="458.31" y2="239.19" stroke="#3a3a3a" stroke-width="0.7" />
<line x1="461.05" y1="237.69" x2="461.05" y2="239.19" stroke="#3a3a3a" stroke-width="0.7" />
<line x1="464.47" y1="237.69" x2="464.47" y2="239.19" stroke="#3a3a3a" stroke-width="0.7" />
<line x1="467.89" y1="237.69" x2="467.89" y2="239.19" stroke="#3a3a3a" stroke-width="0.7" />
<line x1="471.99" y1="237.69" x2="471.99" y2="239.19" stroke="#3a3a3a" stroke-width="0.7" />
<text x="445.60" y="165.50" font-size="10.4" text-anchor="middle" fill="#1a1a1a" font-weight="normal" font-style="normal" >KM plotter</text>
<text x="444.80" y="175.60" font-size="8.4" text-anchor="middle" fill="#1a1a1a" font-weight="normal" font-style="normal" >(Gastric cancer)</text>
<text x="379.2" y="233.4" font-size="6.9" fill="#1a1a1a"><tspan font-style="italic">n</tspan> =<tspan dx="0.7">876</tspan></text>
<text x="379.2" y="241.8" font-size="6.9" fill="#1a1a1a"><tspan font-style="italic">P</tspan> &lt; 0.0001</text>
<text x="379.2" y="250.20000000000002" font-size="6.9" fill="#1a1a1a">HR =<tspan dx="1.0">1.692</tspan></text>
<line x1="443.00" y1="190.30" x2="451.20" y2="190.30" stroke="#9a9a9a" stroke-width="0.9" />
<line x1="447.10" y1="188.90" x2="447.10" y2="190.30" stroke="#9a9a9a" stroke-width="0.7" />
<text x="454.50" y="193.20" font-size="8.4" text-anchor="start" fill="#1a1a1a" font-weight="normal" font-style="normal" >Low TACC3</text>
<line x1="443.00" y1="203.70" x2="451.20" y2="203.70" stroke="#3d3d3d" stroke-width="0.9" />
<line x1="447.10" y1="202.30" x2="447.10" y2="203.70" stroke="#3d3d3d" stroke-width="0.7" />
<text x="454.50" y="206.60" font-size="8.4" text-anchor="start" fill="#1a1a1a" font-weight="normal" font-style="normal" >High TACC3</text>
<text x="445.70" y="276.40" font-size="9.5" text-anchor="middle" fill="#1a1a1a" font-weight="normal" font-style="normal" >Time (month)</text>
<text transform="translate(357.3,209.5) rotate(-90)" font-size="9.25" text-anchor="middle" fill="#1a1a1a">Overall survival (%)</text>
</svg>
</body></html>
